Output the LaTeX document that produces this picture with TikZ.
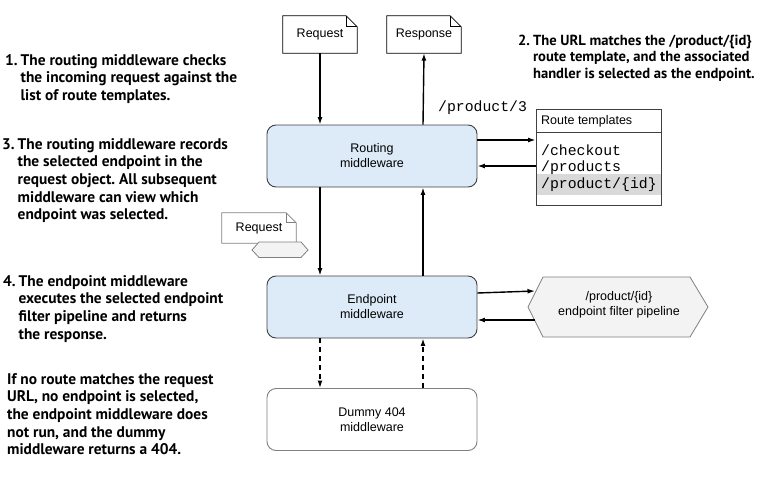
\documentclass[tikz,border=0pt]{standalone}
\usepackage{fontspec}
\setsansfont{Liberation Sans}
\setmonofont{Liberation Mono}
\newfontfamily\notefont{PT Sans}
\usetikzlibrary{arrows.meta}
\frenchspacing

\definecolor{mwblue}{RGB}{221,235,248}
\definecolor{edgegray}{RGB}{64,64,64}
\definecolor{softgray}{RGB}{128,128,128}
\definecolor{hexfill}{RGB}{243,243,243}
\definecolor{hlgray}{RGB}{217,217,217}

\tikzset{
  mw/.style={draw=edgegray, fill=mwblue, line width=0.9pt, rounded corners=9pt,
    minimum width=210pt, minimum height=62pt, align=center,
    font=\sffamily\fontsize{12.5}{15}\selectfont},
  dummy/.style={mw, draw=softgray, fill=white},
  doc/.style={minimum width=74pt, minimum height=37pt, inner sep=0pt,
    font=\sffamily\fontsize{12.5}{15}\selectfont},
  docline/.style={line width=0.8pt},
  note/.style={anchor=north west, inner sep=0pt,
    font=\notefont\bfseries\fontsize{15.4}{17.7}\selectfont},
  mono/.style={anchor=base west, inner sep=0pt, font=\ttfamily\fontsize{14.8}{16.5}\selectfont},
  arr/.style={-{Latex[length=7.5pt,width=5pt]}, line width=1.4pt},
}

% document outline with a folded corner round a node
\newcommand{\docfold}[3][11pt]{%
  \draw[docline, draw=#3] (#2.south west) |- ([xshift=-#1]#2.north east)
    -- ([yshift=-#1]#2.north east) |- cycle;
  \draw[docline, draw=#3] ([xshift=-#1]#2.north east) |- ([yshift=-#1]#2.north east);
}

\begin{document}
\begin{tikzpicture}[x=1pt, y=-1pt]
  \useasboundingbox (0,0) rectangle (762,476);

  % middleware
  \node[mw] (routing) at (372,156) {Routing\\middleware};
  \node[mw] (endpoint) at (372,307) {Endpoint\\middleware};
  \node[dummy] (dummy) at (372,419.5) {Dummy 404\\middleware};

  % request and response
  \node[doc] (req) at (320,34.5) {Request};
  \node[doc] (resp) at (424,34.5) {Response};
  \docfold{req}{black}
  \docfold{resp}{black}

  \node[doc, minimum height=30pt] (reqsm) at (259,228) {Request};
  \docfold[10pt]{reqsm}{softgray}
  \draw[docline, draw=softgray, fill=hexfill] (252,250) -- (259,242) -- (301,242)
    -- (308,250) -- (301,257.5) -- (259,257.5) -- cycle;

  % route templates
  \fill[hlgray] (536.5,173.5) rectangle (660.5,195);
  \node[draw=edgegray, line width=0.8pt, minimum width=125pt, minimum height=96pt,
    inner sep=0pt] (rt) at (598.5,157) {};
  \draw[docline, draw=edgegray] (rt.west |- 0,132) -- (rt.east |- 0,132);
  \node[anchor=west, inner sep=0pt, font=\sffamily\fontsize{12.5}{15}\selectfont]
    (rthead) at (541,121.5) {Route templates};
  \node[mono] (rt1) at (541,155) {/checkout};
  \node[mono] (rt2) at (541,171.5) {/products};
  \node[mono] (rt3) at (541,188) {/product/\{id\}};
  \node[mono] (url) at (438,111) {/product/3};

  % endpoint filter pipeline
  \draw[docline, draw=softgray, fill=hexfill] (528,307) -- (543,277) -- (690,277)
    -- (708,307) -- (690,337) -- (543,337) -- cycle;
  \node[align=center, font=\sffamily\fontsize{12.5}{15}\selectfont] (filter)
    at (619,305) {/product/\{id\}\\endpoint filter pipeline};

  % connectors
  \draw[arr] (req.south) -- ([xshift=-52pt]routing.north);
  \draw[arr] ([xshift=51pt]routing.north) -- (resp.south);
  \draw[arr] ([xshift=-52pt]routing.south) -- ([xshift=-52pt]endpoint.north);
  \draw[arr] ([xshift=51pt]endpoint.north) -- ([xshift=51pt]routing.south);
  \draw[arr] ([yshift=16pt]routing.east) -- ([yshift=16pt]routing.east -| rt.west);
  \draw[arr] ([yshift=-10pt]routing.east -| rt.west) -- ([yshift=-10pt]routing.east);
  \draw[arr] ([yshift=14pt]endpoint.east) -- ([shift={(-84pt,14pt)}]filter.center);
  \draw[arr] ([shift={(-84.5pt,-15pt)}]filter.center) -- ([yshift=-13pt]endpoint.east);
  \draw[arr, dash pattern=on 5pt off 4pt] ([xshift=-52pt]endpoint.south)
    -- ([xshift=-52pt]dummy.north);
  \draw[arr, dash pattern=on 5pt off 4pt] ([xshift=51pt]dummy.north)
    -- ([xshift=51pt]endpoint.south);

  % notes
  \node[note] (n1) at (5,52.5) {\begin{tabular}{@{}l@{\hspace{3pt}}l@{}}
    1. & The routing middleware checks\\
       & the incoming request against the\\
       & list of route templates.\end{tabular}};
  \node[note, font=\notefont\bfseries\fontsize{14.6}{16.5}\selectfont] (n2) at (518,33.5)
    {\begin{tabular}{@{}l@{\hspace{3pt}}l@{}}
    2. & The URL matches the /product/\{id\}\\
       & route template, and the associated\\
       & handler is selected as the endpoint.\end{tabular}};
  \node[note] (n3) at (2,136.5) {\begin{tabular}{@{}l@{\hspace{3pt}}l@{}}
    3. & The routing middleware records\\
       & the selected endpoint in the\\
       & request object. All subsequent\\
       & middleware can view which\\
       & endpoint was selected.\end{tabular}};
  \node[note] (n4) at (3,273.5) {\begin{tabular}{@{}l@{\hspace{3pt}}l@{}}
    4. & The endpoint middleware\\
       & executes the selected endpoint\\
       & filter pipeline and returns\\
       & the response.\end{tabular}};
  \node[note] (n5) at (7,371.5) {\begin{tabular}{@{}l@{}}
    If no route matches the request\\
    URL, no endpoint is selected,\\
    the endpoint middleware does\\
    not run, and the dummy\\
    middleware returns a 404.\end{tabular}};
\end{tikzpicture}
\end{document}
